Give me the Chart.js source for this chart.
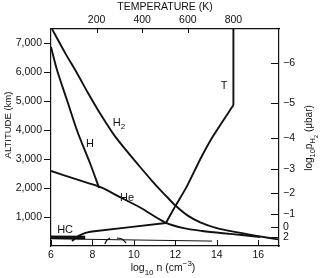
<!DOCTYPE html>
<html>
<head>
<meta charset="utf-8">
<script src="https://cdn.jsdelivr.net/npm/chart.js"></script>
<style>
  html, body { margin: 0; padding: 0; background: #fff; }
  #wrap { width: 324px; height: 278px; }
</style>
</head>
<body>
<div id="wrap"><canvas id="myChart" width="324" height="278"></canvas></div>
<script>
// tick values
const nTicks = [6, 8, 10, 12, 14, 16];
const tempTicks = [200, 400, 600, 800];
const altTicks = [1000, 2000, 3000, 4000, 5000, 6000, 7000];
const pTickLabels = ['\u22126', '\u22125', '\u22124', '\u22123', '\u22122', '\u22121', '0', '2'];
const pTickAlt = [6325, 4942, 3733, 2661, 1832, 1106, 657, 311];

// density profiles (log10 n vs altitude km)
const h2LogN = [6.05, 6.7, 7.25, 7.8, 8.36, 9.1, 10.3, 11.0, 11.6, 12.0, 12.6, 13.2, 14.0, 15.0, 16.0, 16.95];
const h2Alt = [7500, 6650, 5979, 5270, 4590, 3780, 2730, 2150, 1693, 1400, 1050, 820, 620, 470, 340, 230];
const hLogN = [6.0, 6.29, 6.77, 7.3, 7.88, 8.32];
const hAlt = [6877, 6083, 5046, 3905, 2868, 2004];
const heLogN = [6.0, 7.2, 8.36, 9.3, 10.3, 11.5, 12.4, 13.3, 14.3, 15.2, 16.1];
const heAlt = [2592, 2310, 2040, 1700, 1330, 820, 620, 520, 440, 380, 310];
const hcLogN = [6.0, 7.65];
const hcAlt = [300, 295];
const hcThinLogN = [6.0, 13.77];
const hcThinAlt = [250, 170];
const arc1LogN = [8.6, 8.7, 8.85];
const arc1Alt = [69, 207, 276];
const arc2LogN = [9.18, 9.42, 9.62];
const arc2Alt = [276, 242, 104];

// temperature profile (K vs altitude km), in three pieces
const tempTopK = [800, 800];
const tempTopAlt = [7500, 4870];
const tempMidK = [800, 711, 654, 596, 544, 504];
const tempMidAlt = [4870, 3800, 2990, 2060, 1360, 795];
const tempLowK = [504, 190, 160, 135, 115, 92];
const tempLowAlt = [795, 510, 470, 400, 320, 170];

// curve labels
const curveLabels = [
    { text: 'H', sub: '2', n: 9.28, alt: 4250 },
    { text: 'H', sub: '', n: 7.88, alt: 3525 },
    { text: 'He', sub: '', n: 9.67, alt: 1660 },
    { text: 'T', sub: '', n: 14.35, alt: 5530 },
    { text: 'HC', sub: '', n: 6.68, alt: 553 }
];

const FONT = '"Liberation Sans", Arial, sans-serif';

function pts(xs, ys) {
    return xs.map((x, i) => ({ x: x, y: ys[i] }));
}

function line(xs, ys, opts) {
    return Object.assign({
        data: pts(xs, ys),
        borderColor: '#111',
        borderWidth: 1.9,
        pointRadius: 0,
        fill: false,
        tension: 0.3,
        xAxisID: 'x',
        yAxisID: 'y'
    }, opts || {});
}

// draw a run of text pieces: [text, size, yOffset]
function drawPieces(ctx, pieces, x, y, align) {
    let total = 0;
    pieces.forEach(p => {
        ctx.font = p[1] + 'px ' + FONT;
        total += ctx.measureText(p[0]).width;
    });
    let cx = align === 'center' ? x - total / 2 : x;
    ctx.textAlign = 'left';
    pieces.forEach(p => {
        ctx.font = p[1] + 'px ' + FONT;
        ctx.fillText(p[0], cx, y + p[2]);
        cx += ctx.measureText(p[0]).width;
    });
}

const decorPlugin = {
    id: 'decor',
    afterDraw(chart) {
        const ctx = chart.ctx;
        const a = chart.chartArea;
        const sx = chart.scales.x, sy = chart.scales.y, st = chart.scales.xT, sr = chart.scales.y2;
        ctx.save();
        ctx.strokeStyle = '#111';
        ctx.fillStyle = '#111';
        ctx.lineWidth = 1;

        // inward ticks
        ctx.beginPath();
        nTicks.forEach(v => {
            const px = Math.round(sx.getPixelForValue(v)) + 0.5;
            ctx.moveTo(px, a.bottom); ctx.lineTo(px, a.bottom - 6);
        });
        tempTicks.forEach(v => {
            const px = Math.round(st.getPixelForValue(v)) + 0.5;
            ctx.moveTo(px, a.top); ctx.lineTo(px, a.top + 4);
        });
        pTickAlt.forEach(v => {
            const py = Math.round(sr.getPixelForValue(v)) + 0.5;
            ctx.moveTo(a.right, py); ctx.lineTo(a.right - 8, py);
        });
        ctx.stroke();

        // curve labels
        ctx.textBaseline = 'middle';
        curveLabels.forEach(l => {
            const px = sx.getPixelForValue(l.n);
            const py = sy.getPixelForValue(l.alt);
            const pieces = [[l.text, 11, 0]];
            if (l.sub) pieces.push([l.sub, 8, 4]);
            drawPieces(ctx, pieces, px, py, 'center');
        });

        // axis titles
        ctx.textBaseline = 'alphabetic';
        ctx.font = '10.5px ' + FONT;
        ctx.textAlign = 'center';
        ctx.fillText('TEMPERATURE (K)', 165, 10);

        drawPieces(ctx, [['log', 10.5, 0], ['10', 8, 4], [' n (cm', 10.5, 0], ['\u22123', 8, -5], [')', 10.5, 0]], 163, 271, 'center');

        ctx.save();
        ctx.translate(11, 125);
        ctx.rotate(-Math.PI / 2);
        ctx.font = '9.5px ' + FONT;
        ctx.textAlign = 'center';
        ctx.fillText('ALTITUDE (km)', 0, 0);
        ctx.restore();

        ctx.save();
        ctx.translate(312, 138);
        ctx.rotate(-Math.PI / 2);
        drawPieces(ctx, [['log', 10, 0], ['10', 7.5, 3], ['p', 10, 0], ['H', 7.5, 3], ['2', 6, 6], [' (\u03bcbar)', 10, 0]], 0, 0, 'center');
        ctx.restore();

        ctx.restore();
    }
};

const tickFont = { family: FONT, size: 10.5 };

const chart = new Chart(document.getElementById('myChart').getContext('2d'), {
    type: 'line',
    data: {
        datasets: [
            line(h2LogN, h2Alt),
            line(hLogN, hAlt),
            line(heLogN, heAlt),
            line(tempTopK, tempTopAlt, { xAxisID: 'xT', tension: 0 }),
            line(tempMidK, tempMidAlt, { xAxisID: 'xT', tension: 0.2 }),
            line(tempLowK, tempLowAlt, { xAxisID: 'xT', tension: 0.3 }),
            line(hcLogN, hcAlt, { borderWidth: 3.5, tension: 0 }),
            line(hcThinLogN, hcThinAlt, { borderWidth: 1, tension: 0 }),
            line(arc1LogN, arc1Alt, { borderWidth: 1.2, tension: 0.4 }),
            line(arc2LogN, arc2Alt, { borderWidth: 1.2, tension: 0.4 })
        ]
    },
    options: {
        responsive: false,
        animation: false,
        events: [],
        layout: { padding: 0 },
        plugins: { legend: { display: false }, tooltip: { enabled: false } },
        scales: {
            x: {
                type: 'linear',
                position: 'bottom',
                min: 6,
                max: 17,
                afterBuildTicks: s => { s.ticks = nTicks.map(v => ({ value: v })); },
                afterFit: s => { s.height = 32; },
                grid: { display: false, drawTicks: false },
                border: { display: true, color: '#111', width: 1.2 },
                ticks: { color: '#111', font: tickFont, padding: 3, maxRotation: 0 }
            },
            xT: {
                type: 'linear',
                position: 'top',
                min: 0,
                max: 1000,
                afterBuildTicks: s => { s.ticks = tempTicks.map(v => ({ value: v })); },
                afterFit: s => { s.height = 29; },
                grid: { display: false, drawTicks: false },
                border: { display: true, color: '#111', width: 1.2 },
                ticks: { color: '#111', font: tickFont, padding: 3, maxRotation: 0 }
            },
            y: {
                type: 'linear',
                position: 'left',
                min: 0,
                max: 7500,
                afterBuildTicks: s => { s.ticks = altTicks.map(v => ({ value: v })); },
                afterFit: s => { s.width = 51; },
                grid: { drawOnChartArea: false, drawTicks: true, tickLength: 7, color: '#111' },
                border: { display: true, color: '#111', width: 1.2 },
                ticks: {
                    color: '#111',
                    font: tickFont,
                    padding: 2,
                    callback: v => v.toLocaleString('en-US')
                }
            },
            y2: {
                type: 'linear',
                position: 'right',
                min: 0,
                max: 7500,
                afterBuildTicks: s => { s.ticks = pTickAlt.map(v => ({ value: v })); },
                afterFit: s => { s.width = 45; },
                grid: { display: false, drawTicks: false },
                border: { display: true, color: '#111', width: 1.2 },
                ticks: {
                    color: '#111',
                    font: tickFont,
                    padding: 4,
                    autoSkip: false,
                    callback: (v, i) => pTickLabels[i]
                }
            }
        }
    },
    plugins: [decorPlugin]
});
</script>
</body>
</html>
